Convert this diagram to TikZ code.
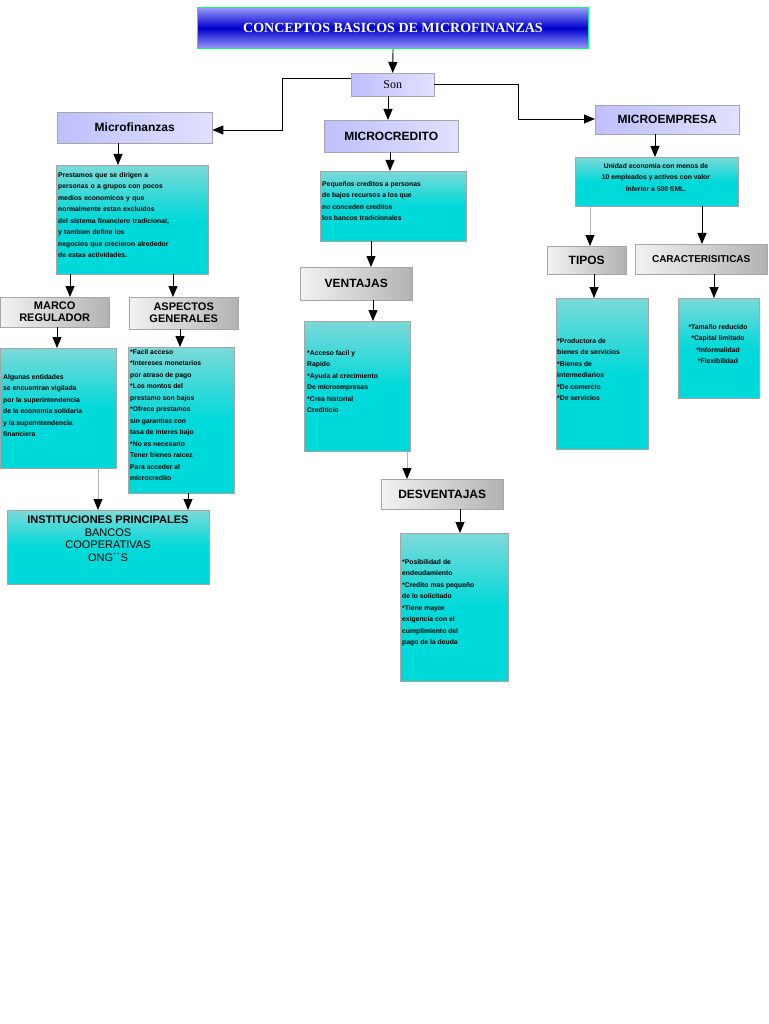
\documentclass[tikz,border=0pt]{standalone}
\usepackage{fontspec}
\setmainfont{Liberation Sans}
\newfontfamily\serifm{Liberation Serif}
\usetikzlibrary{arrows.meta}
\begin{document}
\begin{tikzpicture}[x=1pt,y=-1pt,
  box/.style={draw=gray!70,anchor=north west,inner sep=0pt},
  teal/.style={box,top color=cyan!30!white!70!teal,bottom color=cyan!70!teal,middle color=cyan!70!teal},
  grayb/.style={box,left color=gray!10,right color=gray!60,font=\bfseries\large},
  lav/.style={box,left color=blue!25,right color=blue!12,font=\bfseries\large},
  txt/.style={anchor=north west,font=\fontsize{6.8}{11.5}\selectfont\bfseries,align=left,inner sep=1pt},
  arr/.style={-{Triangle[width=9pt,length=11pt]},line width=0.9pt},
  arl/.style={draw=black!30,line width=0.9pt,-{Triangle[width=9pt,length=11pt,color=black]}}]
\useasboundingbox (0,0) rectangle (768,1024);
\fill[white] (0,0) rectangle (768,1024);
% title
\node[box,draw=green!60!cyan,line width=1pt,minimum width=391,minimum height=41,
  top color=blue!40,bottom color=blue!40,middle color=blue!80!black,text=white,
  font=\serifm\bfseries\fontsize{14}{14}\selectfont] (title) at (197,7) {CONCEPTOS BASICOS DE MICROFINANZAS};
\node[lav,minimum width=83,minimum height=23,font=\serifm\large] (son) at (351,73) {Son};
\node[lav,minimum width=155,minimum height=31] (mf) at (57,112) {Microfinanzas};
\node[lav,minimum width=134,minimum height=32] (mc) at (324,120) {MICROCREDITO};
\node[lav,minimum width=144,minimum height=29] (me) at (595,105) {MICROEMPRESA};
% desc boxes
\node[teal,minimum width=152,minimum height=109] (mfd) at (56,165) {};
\node[txt,text width=152] (mfdt) at (57,171) {Prestamos que se dirigen a\\personas o a grupos con pocos\\medios economicos y que\\normalmente estan excluidos\\del sistema financiero tradicional,\\y tambien define los\\negocios que crecieron alrededor\\de estas actividades.};
\node[teal,minimum width=146,minimum height=70] (mcd) at (320,171) {};
\node[txt] (mcdt) at (321,180) {Pequeños creditos a personas\\de bajos recursos a los que\\no conceden creditos\\los bancos tradicionales};
\node[teal,minimum width=163,minimum height=49] (med) at (575,157) {};
\node[txt,anchor=north,align=center] (medt) at (656,162) {Unidad economia con menos de\\10 empleados y activos con valor\\Inferior a 500 SML.};
% gray headers
\node[grayb,minimum width=79,minimum height=28] (tipos) at (547,246) {TIPOS};
\node[grayb,minimum width=132,minimum height=30,font=\bfseries] (car) at (635,244) {CARACTERISITICAS};
\node[grayb,minimum width=112,minimum height=33] (ven) at (300,267) {VENTAJAS};
\node[grayb,minimum width=109,minimum height=30,align=center,font=\bfseries\fontsize{11}{12}\selectfont] (marco) at (0,297) {MARCO\\REGULADOR};
\node[grayb,minimum width=109,minimum height=32,align=center,font=\bfseries\fontsize{11}{12}\selectfont] (asp) at (129,297) {ASPECTOS\\GENERALES};
\node[grayb,minimum width=122,minimum height=30] (desv) at (381,479) {DESVENTAJAS};
% lower desc
\node[teal,minimum width=116,minimum height=120] (mad) at (0,348) {};
\node[txt] (madt) at (2,373) {Algunas entidades\\se encuentran vigilada\\ por la superintendencia\\de la economia solidaria\\ y la superintendencia\\ financiera};
\node[teal,minimum width=106,minimum height=146] (asd) at (128,347) {};
\node[txt] (asdt) at (129,348) {*Facil acceso\\*Intereses monetarios\\por atraso de pago\\*Los montos del\\prestamo son bajos\\*Ofrece prestamos\\sin garantias con\\tasa de interes bajo\\*No es necesario\\Tener bienes raicez\\Para acceder al\\microcredito};
\node[teal,minimum width=106,minimum height=130] (vd) at (304,321) {};
\node[txt] (vdt) at (306,349) {*Acceso facil y\\Rapido\\*Ayuda al crecimiento\\De microempresas\\*Crea historial\\Crediticio};
\node[teal,minimum width=92,minimum height=151] (td) at (556,298) {};
\node[txt] (tdt) at (556,337) {*Productora de\\bienes de servicios\\*Bienes de\\intermediarios\\*De comercio\\*De servicios};
\node[teal,minimum width=81,minimum height=100] (cd) at (678,298) {};
\node[txt,anchor=north,align=center] (cdt) at (718,323) {*Tamaño reducido\\*Capital limitado\\*Informalidad\\*Flexibilidad};
\node[teal,minimum width=202,minimum height=74] (inst) at (7,510) {};
\node[anchor=north,align=center,inner sep=0pt,font=\fontsize{11}{12.5}\selectfont] (instt) at (108,516) {\textbf{INSTITUCIONES PRINCIPALES}\\BANCOS\\COOPERATIVAS\\ONG´´S};
\node[teal,minimum width=108,minimum height=148] (dd) at (400,533) {};
\node[txt] (ddt) at (401,558) {*Posibilidad de\\endeudamiento\\*Credito mas pequeño\\de lo solicitado\\*Tiene mayor\\exigencia con el\\cumplimiento del\\pago de la deuda};
% arrows
\draw[arr] (title.south) -- (son.north);
\draw[arr] (son.west|-0,78) -| (282,130) -- (mf.east|-0,130);
\draw[arr] (son.east|-0,84) -| (518,119) -- (me.west|-0,119);
\draw[arr] (388,96) -- (mc.north-|388,0);
\draw[arr] (118,143) -- (118,165);
\draw[arr] (70,274) -- (70,297);
\draw[arr] (173,274) -- (173,297);
\draw[arr] (57,327) -- (57,348);
\draw[arr] (180,329) -- (180,347);
\draw[arl] (98,468) -- (98,510);
\draw[arr] (188,493) -- (188,510);
\draw[arr] (390,152) -- (390,171);
\draw[arr] (371,241) -- (371,267);
\draw[arr] (373,300) -- (373,321);
\draw[arl] (407,451) -- (407,479);
\draw[arr] (460,509) -- (460,533);
\draw[arr] (655,134) -- (655,157);
\draw[arl] (590,206) -- (590,246);
\draw[arr] (702,206) -- (702,244);
\draw[arr] (594,274) -- (594,298);
\draw[arr] (714,274) -- (714,298);
\end{tikzpicture}
\end{document}
